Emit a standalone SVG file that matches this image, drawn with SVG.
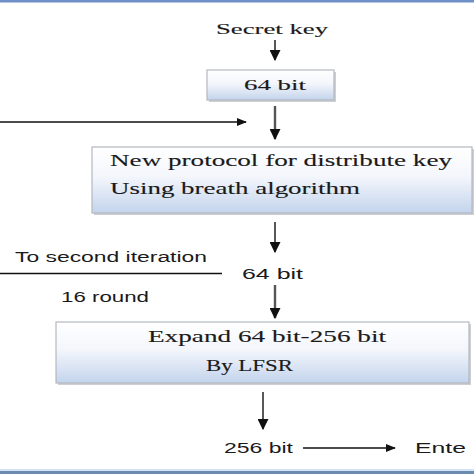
<svg xmlns="http://www.w3.org/2000/svg" width="474" height="474" viewBox="0 0 474 474">
<style>
.serif{font-family:"Liberation Serif","Times New Roman",serif;fill:#1a1a1a;stroke:#1a1a1a;stroke-width:0.12}
.sans{font-family:"Liberation Sans",Arial,sans-serif;fill:#1a1a1a}
.box{fill:url(#g);stroke:#b4b8c0;stroke-width:1.2}
.shadow{fill:#9aa0a8;opacity:0.5}
.ln{stroke:#111;stroke-width:1.4;fill:none}
.lg{stroke:#555;stroke-width:2.4;fill:none}
</style>
<defs>
<linearGradient id="g" x1="0" y1="0" x2="0" y2="1">
<stop offset="0" stop-color="#ffffff"/>
<stop offset="0.45" stop-color="#f4f6fc"/>
<stop offset="1" stop-color="#c3d4ec"/>
</linearGradient>
<marker id="ah" viewBox="0 0 10 10" refX="9" refY="5" markerWidth="11" markerHeight="11" markerUnits="userSpaceOnUse" orient="auto">
<path d="M0,0 L10,5 L0,10 Z" fill="#111"/>
</marker>
<marker id="ahw" viewBox="0 0 10 8" refX="9" refY="4" markerWidth="14" markerHeight="8" markerUnits="userSpaceOnUse" orient="auto">
<path d="M0,0 L10,4 L0,8 Z" fill="#111"/>
</marker>
</defs>
<rect width="474" height="474" fill="#ffffff"/>
<rect x="0" y="0" width="474" height="2.5" fill="#6f8fc8"/>
<rect x="0" y="469" width="474" height="2" fill="#d4e4f4"/>
<rect x="0" y="471" width="474" height="3" fill="#6b8cb0"/>

<g id="secret-key"><text class="serif" x="272" y="34" font-size="15" text-anchor="middle" textLength="112" lengthAdjust="spacingAndGlyphs">Secret key</text></g>

<g id="box1">
<rect class="shadow" x="209" y="72" width="127" height="30"/>
<rect class="box" x="207" y="70" width="127" height="30"/>
<text class="serif" x="275" y="90" font-size="15" text-anchor="middle" textLength="62" lengthAdjust="spacingAndGlyphs">64 bit</text>
</g>

<g id="box2">
<rect class="shadow" x="94" y="149" width="381" height="66"/>
<rect class="box" x="92" y="147" width="380" height="66"/>
<text class="serif" x="110" y="166" font-size="17" textLength="342" lengthAdjust="spacingAndGlyphs">New protocol for distribute key</text>
<text class="serif" x="110" y="194" font-size="17" textLength="250" lengthAdjust="spacingAndGlyphs">Using breath algorithm</text>
</g>

<g id="box3">
<rect class="shadow" x="58" y="324" width="413" height="61"/>
<rect class="box" x="56" y="322" width="413" height="61"/>
<text class="serif" x="148" y="342" font-size="17" textLength="238" lengthAdjust="spacingAndGlyphs">Expand 64 bit-256 bit</text>
<text class="serif" x="206" y="371" font-size="17" textLength="87" lengthAdjust="spacingAndGlyphs">By LFSR</text>
</g>

<g id="labels">
<text class="sans" x="15" y="262" font-size="14" textLength="192" lengthAdjust="spacingAndGlyphs">To second iteration</text>
<text class="sans" x="242" y="279" font-size="15" textLength="61" lengthAdjust="spacingAndGlyphs">64 bit</text>
<text class="sans" x="61" y="302" font-size="14" textLength="88" lengthAdjust="spacingAndGlyphs">16 round</text>
<text class="sans" x="224" y="453" font-size="15" textLength="69" lengthAdjust="spacingAndGlyphs">256 bit</text>
<text class="sans" x="415" y="453" font-size="15" textLength="51" lengthAdjust="spacingAndGlyphs">Ente</text>
</g>

<g id="connectors">
<line class="ln" x1="275" y1="40" x2="275" y2="60" marker-end="url(#ah)"/>
<line class="lg" x1="275" y1="106" x2="275" y2="139" marker-end="url(#ah)"/>
<line class="ln" x1="0" y1="122" x2="246" y2="122" marker-end="url(#ahw)"/>
<line class="ln" x1="275" y1="222" x2="275" y2="252" marker-end="url(#ah)"/>
<line class="ln" x1="0" y1="273.5" x2="222" y2="273.5"/>
<line class="lg" x1="275" y1="285" x2="275" y2="318" marker-end="url(#ah)"/>
<line class="ln" x1="263" y1="392" x2="263" y2="429" marker-end="url(#ah)"/>
<line class="ln" x1="303" y1="448" x2="395" y2="448" marker-end="url(#ahw)"/>
</g>
</svg>
